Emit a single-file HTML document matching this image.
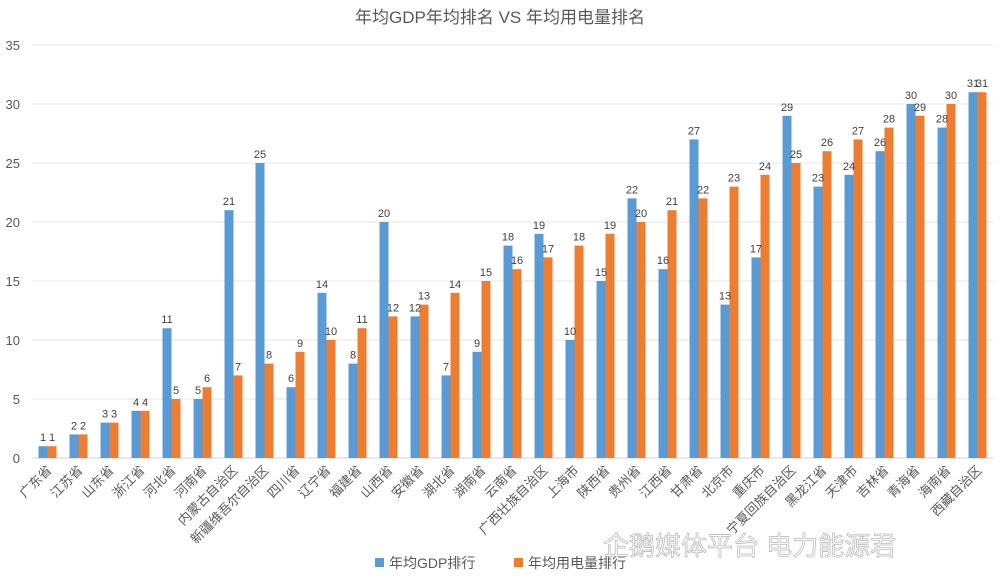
<!DOCTYPE html>
<html><head><meta charset="utf-8"><style>
body{margin:0;background:#fff;width:1000px;height:582px;overflow:hidden;font-family:"Liberation Sans","Noto Sans CJK SC",sans-serif}
</style></head><body>
<svg id="c" width="1000" height="582" font-family="Liberation Sans, Noto Sans CJK SC, sans-serif"></svg>
<script>
const categories=["广东省","江苏省","山东省","浙江省","河北省","河南省","内蒙古自治区","新疆维吾尔自治区","四川省","辽宁省","福建省","山西省","安徽省","湖北省","湖南省","云南省","广西壮族自治区","上海市","陕西省","贵州省","江西省","甘肃省","北京市","重庆市","宁夏回族自治区","黑龙江省","天津市","吉林省","青海省","海南省","西藏自治区"];
const gdpRank=[1,2,3,4,11,5,21,25,6,14,8,20,12,7,9,18,19,10,15,22,16,27,13,17,29,23,24,26,30,28,31];
const elecRank=[1,2,3,4,5,6,7,8,9,10,11,12,13,14,15,16,17,18,19,20,21,22,23,24,25,26,27,28,29,30,31];
const yTicks=[0,5,10,15,20,25,30,35];
const NS="http://www.w3.org/2000/svg",svg=document.getElementById('c');
const L=32,R=993,T=45,B=458,yMax=35;
const y=v=>B-(v/yMax)*(B-T);
const cw=(R-L)/categories.length;
const x=i=>L+cw*i+cw/2;
function el(t,a,txt){const e=document.createElementNS(NS,t);for(const k in a)e.setAttribute(k,a[k]);if(txt!=null)e.textContent=txt;svg.appendChild(e);return e;}
let e=el('text',{x:500,y:23,'text-anchor':'middle','font-size':17,fill:'#595959'},'年均GDP年均排名 VS 年均用电量排名');

yTicks.forEach(t=>{
 let g=el('line',{x1:L,x2:R,y1:y(t),y2:y(t),stroke:t===0?'#d0d0d0':'#e4e4e4','stroke-width':1});
 
 let l=el('text',{x:20,y:y(t)+5,'text-anchor':'end','font-size':13,fill:'#595959'},t);
 
});
const bw=9;
categories.forEach((c,i)=>{
 const cx=x(i);
 let b1=el('rect',{x:cx-bw,y:y(gdpRank[i]),width:bw,height:B-y(gdpRank[i]),fill:'#5b9bd5'});
 
 let b2=el('rect',{x:cx,y:y(elecRank[i]),width:bw,height:B-y(elecRank[i]),fill:'#ed7d31'});
 
 let t1=el('text',{x:cx-bw/2,y:y(gdpRank[i])-5,'text-anchor':'middle','font-size':11,fill:'#404040'},gdpRank[i]);
 
 let t2=el('text',{x:cx+bw/2,y:y(elecRank[i])-5,'text-anchor':'middle','font-size':11,fill:'#404040'},elecRank[i]);
 
 let cl=el('text',{x:cx+5,y:B+13,'text-anchor':'end','font-size':13,fill:'#595959',transform:`rotate(-45 ${cx+5} ${B+13})`},c);
 
});
let lg=el('rect',{x:375,y:558,width:9,height:9,fill:'#5b9bd5'});

let lt=el('text',{x:389,y:568,'font-size':14,fill:'#595959'},'年均GDP排行');

let lg2=el('rect',{x:514,y:558,width:9,height:9,fill:'#ed7d31'});

let lt2=el('text',{x:528,y:568,'font-size':14,fill:'#595959'},'年均用电量排行');

let wm=el('text',{x:603,y:555,'font-size':26,fill:'#ffffff',stroke:'#b0b0b0','stroke-width':0.8,opacity:0.85},'企鹅媒体平台 电力能源君');

</script>
</body></html>
